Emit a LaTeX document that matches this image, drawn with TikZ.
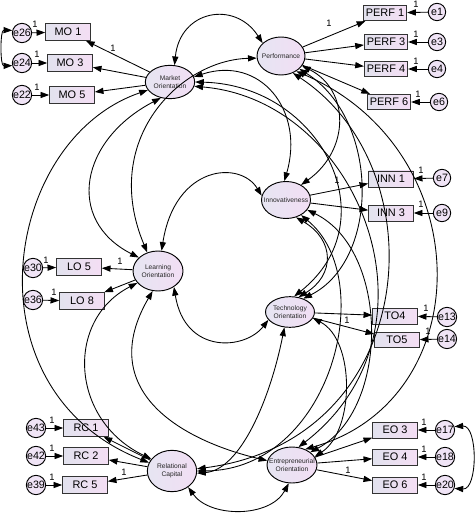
\documentclass[tikz,border=0pt]{standalone}
\usepackage{fontspec}
\setmainfont{Liberation Sans}
\usetikzlibrary{shapes.geometric,arrows.meta}
\definecolor{latL}{RGB}{230,229,242}
\definecolor{latR}{RGB}{242,222,244}
\definecolor{boxL}{RGB}{226,226,238}
\definecolor{boxR}{RGB}{244,222,244}
\definecolor{errF}{RGB}{240,228,246}
\begin{document}
\begin{tikzpicture}[x=0.75pt,y=-0.75pt,
  >={Triangle[length=6.5pt,width=4.6pt]},
  lat/.style={ellipse,draw=black,line width=0.7pt,left color=latL,right color=latR,inner sep=0pt},
  lattext/.style={font=\fontsize{5}{6}\selectfont,align=center,text=black!85,inner sep=0pt},
  obs/.style={rectangle,draw=black!80,line width=0.7pt,left color=boxL,right color=boxR,minimum width=33.5pt,minimum height=12.5pt,inner sep=0pt,font=\fontsize{8.2}{9}\selectfont},
  err/.style={circle,draw=black,line width=0.7pt,fill=errF,minimum size=13pt,inner sep=0pt,font=\fontsize{8}{9}\selectfont},
  one/.style={font=\fontsize{7}{8}\selectfont,inner sep=0pt},
  reg/.style={->,line width=0.65pt},
  cov/.style={<->,line width=0.65pt},
]
\useasboundingbox (0,0) rectangle (474,513);

% latent variables
\node[lat,minimum width=37pt,minimum height=25pt,label={[lattext]center:Market\\Orientation}] (MO) at (170,82) {};
\node[lat,minimum width=36pt,minimum height=28.5pt,label={[lattext]center:Performance}] (Perf) at (281,56) {};
\node[lat,minimum width=36.75pt,minimum height=27.75pt,label={[lattext]center:Innovativeness}] (INN) at (286,200) {};
\node[lat,minimum width=37.5pt,minimum height=30pt,label={[lattext]center:Learning\\Orientation}] (LO) at (158,271) {};
\node[lat,minimum width=36.75pt,minimum height=23pt,label={[lattext]center:Technology\\Orientation}] (TO) at (290,312) {};
\node[lat,minimum width=37pt,minimum height=31pt,label={[lattext]center:Relational\\Capital}] (RC) at (172,471) {};
\node[lat,minimum width=37.5pt,minimum height=27pt,label={[lattext]center:Entrepreneurial\\Orientation}] (EO) at (292,465) {};

% observed variables
\node[obs] (MO1) at (68,32) {MO 1};
\node[obs] (MO3) at (70,63) {MO 3};
\node[obs] (MO5) at (72,95) {MO 5};
\node[obs,minimum width=32.5pt,minimum height=11.5pt] (PERF1) at (385,13) {PERF 1};
\node[obs,minimum width=32.5pt,minimum height=11.5pt] (PERF3) at (386,42) {PERF 3};
\node[obs,minimum width=32.5pt,minimum height=11.5pt] (PERF4) at (386,69) {PERF 4};
\node[obs,minimum width=32.5pt,minimum height=11.5pt] (PERF6) at (389,102) {PERF 6};
\node[obs,minimum height=12pt] (INN1) at (391,179) {INN 1};
\node[obs,minimum height=12pt] (INN3) at (391,213) {INN 3};
\node[obs] (LO5) at (79,267) {LO 5};
\node[obs] (LO8) at (82,301) {LO 8};
\node[obs,minimum height=12pt] (TO4) at (395,316) {TO4};
\node[obs,minimum height=11.5pt] (TO5) at (397,340) {TO5};
\node[obs] (RC1) at (86,428) {RC 1};
\node[obs] (RC2) at (86,456) {RC 2};
\node[obs] (RC5) at (85,485) {RC 5};
\node[obs,minimum height=12pt] (EO3) at (395,430) {EO 3};
\node[obs,minimum height=12pt] (EO4) at (395,457) {EO 4};
\node[obs,minimum height=12pt] (EO6) at (395,485) {EO 6};

% error terms
\node[err] (e26) at (22,33) {e26};
\node[err] (e24) at (22,63) {e24};
\node[err] (e22) at (22,95) {e22};
\node[err] (e1) at (437,12) {e1};
\node[err] (e3) at (437,42) {e3};
\node[err] (e4) at (437,69) {e4};
\node[err] (e6) at (439,102) {e6};
\node[err] (e7) at (442,178) {e7};
\node[err] (e9) at (442,213) {e9};
\node[err] (e30) at (33,268) {e30};
\node[err] (e36) at (33,300) {e36};
\node[err] (e13) at (447,317) {e13};
\node[err] (e14) at (447,339) {e14};
\node[err] (e43) at (36,428) {e43};
\node[err] (e42) at (36,456) {e42};
\node[err] (e39) at (36,485) {e39};
\node[err] (e17) at (445,430) {e17};
\node[err] (e18) at (445,457) {e18};
\node[err] (e20) at (445,485) {e20};

% loadings
\draw[reg] (MO) -- (MO1);
\draw[reg] (MO) -- (MO3);
\draw[reg] (MO) -- (MO5);
\draw[reg] (Perf) -- (PERF1);
\draw[reg] (Perf) -- (PERF3);
\draw[reg] (Perf) -- (PERF4);
\draw[reg] (Perf) -- (PERF6);
\draw[reg] (INN) -- (INN1);
\draw[reg] (INN) -- (INN3);
\draw[reg] (LO) -- (LO5);
\draw[reg] (LO) -- (LO8);
\draw[reg] (TO) -- (TO4);
\draw[reg] (TO) -- (TO5);
\draw[reg] (RC) -- (RC1);
\draw[reg] (RC) -- (RC2);
\draw[reg] (RC) -- (RC5);
\draw[reg] (EO) -- (EO3);
\draw[reg] (EO) -- (EO4);
\draw[reg] (EO) -- (EO6);

% errors to indicators
\foreach \e/\b in {e26/MO1,e24/MO3,e22/MO5,e1/PERF1,e3/PERF3,e4/PERF4,e6/PERF6,e7/INN1,e9/INN3,e30/LO5,e36/LO8,e13/TO4,e14/TO5,e43/RC1,e42/RC2,e39/RC5,e17/EO3,e18/EO4,e20/EO6}
  \draw[reg] (\e) -- (\b);

% error covariances
\draw[cov] (e26.165) .. controls (0,30) and (0,66) .. (e24.195);
\draw[cov] (e17.20) .. controls (478,425) and (478,490) .. (e20.-20);

% latent covariances
\draw[cov] (MO.75) .. controls (180,10) and (235,0) .. (Perf.145);
\draw[cov] (Perf.185) .. controls (180,60) and (100,140) .. (LO.120);
\draw[cov] (MO.240) .. controls (80,140) and (65,220) .. (LO.145);
\draw[cov] (MO.200) .. controls (2,140) and (-35,390) .. (RC.160);
\draw[cov] (LO.210) .. controls (65,320) and (70,420) .. (RC.150);
\draw[cov] (LO.255) .. controls (95,390) and (180,440) .. (EO.170);
\draw[cov] (INN.170) .. controls (240,160) and (175,165) .. (LO.80);
\draw[cov] (LO.-45) .. controls (185,355) and (245,350) .. (TO.200);
\draw[cov] (MO.12) .. controls (260,55) and (305,110) .. (INN.95);
\draw[cov] (MO.0) .. controls (320,85) and (390,220) .. (TO.75);
\draw[cov] (MO.-10) .. controls (360,100) and (450,330) .. (EO.70);
\draw[cov] (Perf.-25) .. controls (350,90) and (350,150) .. (INN.45);
\draw[cov] (Perf.-35) .. controls (380,120) and (380,260) .. (TO.45);
\draw[cov] (Perf.-45) .. controls (480,150) and (480,400) .. (EO.50);
\draw[cov] (Perf.-55) .. controls (440,170) and (420,440) .. (RC.5);
\draw[cov] (INN.-60) .. controls (335,240) and (335,275) .. (TO.60);
\draw[cov] (INN.-25) .. controls (390,250) and (390,410) .. (EO.35);
\draw[cov] (INN.-45) .. controls (380,280) and (330,470) .. (RC.0);
\draw[cov] (TO.-15) .. controls (355,340) and (355,430) .. (EO.20);
\draw[cov] (TO.-110) .. controls (270,400) and (240,470) .. (RC.-5);
\draw[cov] (RC.-45) .. controls (210,518) and (270,518) .. (EO.-100);

% "1" labels
\node[one] (lMO) at (113,48) {1};
\node[one] (l26) at (35,24) {1};
\node[one] (l24) at (37,54) {1};
\node[one] (l22) at (37,87) {1};
\node[one] (lPerf) at (329,23) {1};
\node[one] (l1) at (416,4) {1};
\node[one] (l3) at (416,34) {1};
\node[one] (l4) at (416,61) {1};
\node[one] (l6) at (418,94) {1};
\node[one] (lINN) at (337,180) {1};
\node[one] (l7) at (421,170) {1};
\node[one] (l9) at (421,204) {1};
\node[one] (lLO) at (120,261) {1};
\node[one] (l30) at (46,260) {1};
\node[one] (l36) at (54,292) {1};
\node[one] (lTO) at (347,320) {1};
\node[one] (l13) at (426,308) {1};
\node[one] (l14) at (428,331) {1};
\node[one] (lRC) at (124,472) {1};
\node[one] (l43) at (52,420) {1};
\node[one] (l42) at (52,448) {1};
\node[one] (l39) at (52,477) {1};
\node[one] (lEO) at (348,470) {1};
\node[one] (l17) at (424,422) {1};
\node[one] (l18) at (424,449) {1};
\node[one] (l20) at (424,477) {1};
\end{tikzpicture}
\end{document}
